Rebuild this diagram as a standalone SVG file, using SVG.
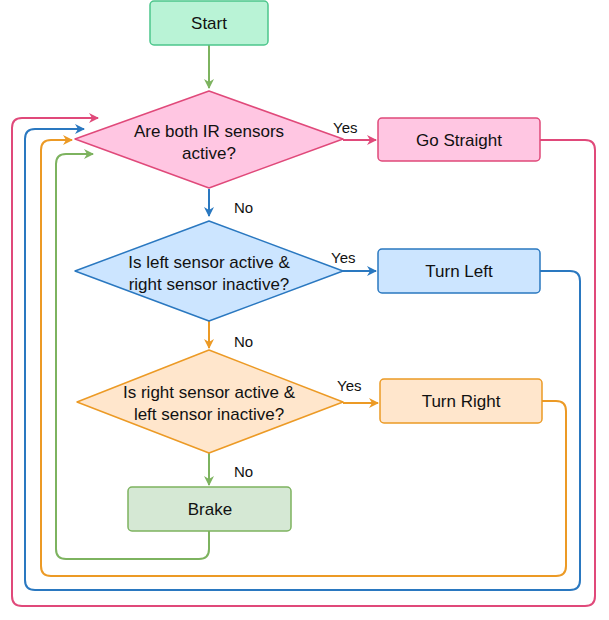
<svg xmlns="http://www.w3.org/2000/svg" width="609" height="620" viewBox="0 0 609 620">
<style>
text{font-family:"Liberation Sans",Arial,sans-serif;font-size:17px;fill:#111;text-anchor:middle}
.l{font-size:15px;text-anchor:start}
.c{fill:none;stroke-width:2}
.pk{stroke:#e0497a}.bl{stroke:#2a78c0}.or{stroke:#ec9a25}.gr{stroke:#7db35f}
</style>
<defs>
<marker id="mp" markerWidth="10" markerHeight="10" refX="9" refY="5" orient="auto" markerUnits="userSpaceOnUse"><path d="M0,0L10,5L0,10L3,5z" fill="#e0497a"/></marker>
<marker id="mb" markerWidth="10" markerHeight="10" refX="9" refY="5" orient="auto" markerUnits="userSpaceOnUse"><path d="M0,0L10,5L0,10L3,5z" fill="#2a78c0"/></marker>
<marker id="mo" markerWidth="10" markerHeight="10" refX="9" refY="5" orient="auto" markerUnits="userSpaceOnUse"><path d="M0,0L10,5L0,10L3,5z" fill="#ec9a25"/></marker>
<marker id="mg" markerWidth="10" markerHeight="10" refX="9" refY="5" orient="auto" markerUnits="userSpaceOnUse"><path d="M0,0L10,5L0,10L3,5z" fill="#7db35f"/></marker>
</defs>
<rect width="609" height="620" fill="#fff"/>
<g id="connectors">
<path class="c gr" d="M209,45V88" marker-end="url(#mg)"/>
<path class="c pk" d="M343,140H376" marker-end="url(#mp)"/>
<path class="c bl" d="M209,189V216" marker-end="url(#mb)"/>
<path class="c bl" d="M343,271H376" marker-end="url(#mb)"/>
<path class="c or" d="M209,321V348" marker-end="url(#mo)"/>
<path class="c or" d="M343,403H378" marker-end="url(#mo)"/>
<path class="c gr" d="M209,453V485" marker-end="url(#mg)"/>
<path class="c pk" d="M540,140H585Q595,140 595,150V596Q595,606 585,606H22Q12,606 12,596V128Q12,118 22,118H98" marker-end="url(#mp)"/>
<path class="c bl" d="M540,271H570Q580,271 580,281V580Q580,590 570,590H35Q25,590 25,580V139Q25,129 35,129H84" marker-end="url(#mb)"/>
<path class="c or" d="M542,401H556Q566,401 566,411V566Q566,576 556,576H51Q41,576 41,566V150Q41,140 51,140H72" marker-end="url(#mo)"/>
<path class="c gr" d="M209,531V549Q209,559 199,559H66Q56,559 56,549V164Q56,154 66,154H93" marker-end="url(#mg)"/>
<text class="l" x="333" y="133">Yes</text>
<text class="l" x="331" y="263">Yes</text>
<text class="l" x="337" y="391">Yes</text>
<text class="l" x="234" y="213">No</text>
<text class="l" x="234" y="347">No</text>
<text class="l" x="234" y="477">No</text>
</g>
<g id="start"><rect x="150" y="1" width="118" height="44" rx="4" fill="#b9f3d6" stroke="#4cc68c" stroke-width="1.5"/><text x="209" y="29">Start</text></g>
<g id="d1"><path d="M75,139L209,91L343,139L209,188Z" fill="#ffc6e2" stroke="#e0497a" stroke-width="1.5" stroke-linejoin="round"/><text x="209" y="137">Are both IR sensors</text><text x="209" y="159">active?</text></g>
<g id="gostraight"><rect x="378" y="118" width="162" height="43" rx="4" fill="#ffc6e2" stroke="#e0497a" stroke-width="1.5"/><text x="459" y="146">Go Straight</text></g>
<g id="d2"><path d="M75,271L209,221L343,271L209,321Z" fill="#cce5ff" stroke="#2a78c0" stroke-width="1.5" stroke-linejoin="round"/><text x="209" y="268">Is left sensor active &amp;</text><text x="209" y="290">right sensor inactive?</text></g>
<g id="turnleft"><rect x="378" y="249" width="162" height="44" rx="4" fill="#cce5ff" stroke="#2a78c0" stroke-width="1.5"/><text x="459" y="277">Turn Left</text></g>
<g id="d3"><path d="M77,402L209,350L343,402L209,453Z" fill="#ffe6cc" stroke="#ec9a25" stroke-width="1.5" stroke-linejoin="round"/><text x="209" y="398">Is right sensor active &amp;</text><text x="209" y="420">left sensor inactive?</text></g>
<g id="turnright"><rect x="380" y="379" width="162" height="44" rx="4" fill="#ffe6cc" stroke="#ec9a25" stroke-width="1.5"/><text x="461" y="407">Turn Right</text></g>
<g id="brake"><rect x="128" y="487" width="163" height="44" rx="4" fill="#d5e8d4" stroke="#7db35f" stroke-width="1.5"/><text x="210" y="515">Brake</text></g>
</svg>
